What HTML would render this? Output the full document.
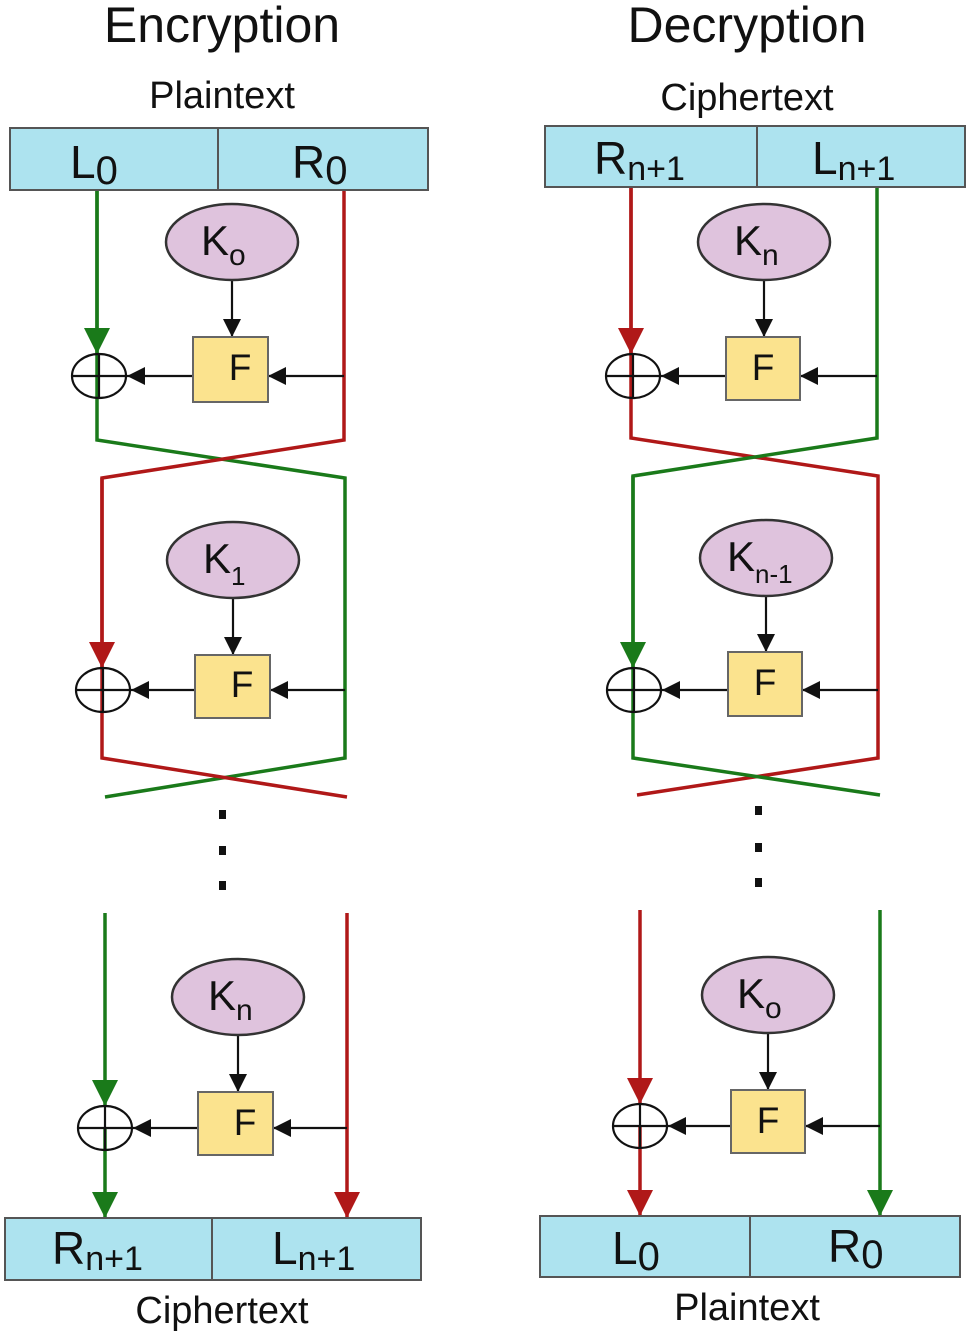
<!DOCTYPE html>
<html><head><meta charset="utf-8"><style>html,body{margin:0;padding:0;background:#fff}svg{display:block}text{font-family:"Liberation Sans",sans-serif;fill:#111}</style></head><body>
<svg width="969" height="1338" viewBox="0 0 969 1338" xmlns="http://www.w3.org/2000/svg">
<defs>
<marker id="ab" markerWidth="10" markerHeight="10" refX="9" refY="5" orient="auto" markerUnits="userSpaceOnUse"><path d="M0,0 L10,5 L0,10 z" fill="#111"/></marker>
<marker id="ag" markerWidth="28" markerHeight="26" refX="26" refY="13" orient="auto" markerUnits="userSpaceOnUse"><path d="M0,0 L26,13 L0,26 z" fill="#1a7a1a"/></marker>
<marker id="ar" markerWidth="28" markerHeight="26" refX="26" refY="13" orient="auto" markerUnits="userSpaceOnUse"><path d="M0,0 L26,13 L0,26 z" fill="#b01818"/></marker>
<marker id="ak" markerWidth="20" markerHeight="20" refX="18" refY="9" orient="auto" markerUnits="userSpaceOnUse"><path d="M0,0 L18,9 L0,18 z" fill="#111"/></marker>
</defs>
<g fill="none" stroke-width="3.5">
<!-- Encryption lines -->
<polyline points="97,190 97,440 345,478 345,758 105,797" stroke="#1a7a1a"/>
<polyline points="344,190 344,440 102,478 102,758 347,797" stroke="#b01818"/>
<line x1="97" y1="190" x2="97" y2="354" stroke="#1a7a1a" marker-end="url(#ag)"/>
<line x1="102" y1="478" x2="102" y2="668" stroke="#b01818" marker-end="url(#ar)"/>
<line x1="105" y1="913" x2="105" y2="1106" stroke="#1a7a1a" marker-end="url(#ag)"/>
<line x1="105" y1="1128" x2="105" y2="1218" stroke="#1a7a1a" marker-end="url(#ag)"/>
<line x1="347" y1="913" x2="347" y2="1218" stroke="#b01818" marker-end="url(#ar)"/>
<!-- Decryption lines -->
<polyline points="631,187 631,438 878,476 878,758 637,795" stroke="#b01818"/>
<polyline points="877,187 877,438 633,476 633,758 880,795" stroke="#1a7a1a"/>
<line x1="631" y1="187" x2="631" y2="354" stroke="#b01818" marker-end="url(#ar)"/>
<line x1="633" y1="476" x2="633" y2="668" stroke="#1a7a1a" marker-end="url(#ag)"/>
<line x1="640" y1="910" x2="640" y2="1104" stroke="#b01818" marker-end="url(#ar)"/>
<line x1="640" y1="1126" x2="640" y2="1216" stroke="#b01818" marker-end="url(#ar)"/>
<line x1="880" y1="910" x2="880" y2="1216" stroke="#1a7a1a" marker-end="url(#ag)"/>
</g>
<g stroke="#111" stroke-width="2.2" fill="none">
<!-- round helpers: K->F arrows, R->F arrows, F->XOR arrows -->
<line x1="232" y1="280" x2="232" y2="337" marker-end="url(#ak)"/>
<line x1="344" y1="376" x2="268" y2="376" marker-end="url(#ak)"/>
<line x1="193" y1="376" x2="127" y2="376" marker-end="url(#ak)"/>
<line x1="233" y1="597" x2="233" y2="655" marker-end="url(#ak)"/>
<line x1="345" y1="690" x2="270" y2="690" marker-end="url(#ak)"/>
<line x1="195" y1="690" x2="131" y2="690" marker-end="url(#ak)"/>
<line x1="238" y1="1034" x2="238" y2="1092" marker-end="url(#ak)"/>
<line x1="347" y1="1128" x2="273" y2="1128" marker-end="url(#ak)"/>
<line x1="198" y1="1128" x2="133" y2="1128" marker-end="url(#ak)"/>
<line x1="764" y1="280" x2="764" y2="337" marker-end="url(#ak)"/>
<line x1="877" y1="376" x2="800" y2="376" marker-end="url(#ak)"/>
<line x1="726" y1="376" x2="661" y2="376" marker-end="url(#ak)"/>
<line x1="766" y1="596" x2="766" y2="652" marker-end="url(#ak)"/>
<line x1="878" y1="690" x2="802" y2="690" marker-end="url(#ak)"/>
<line x1="728" y1="690" x2="662" y2="690" marker-end="url(#ak)"/>
<line x1="768" y1="1033" x2="768" y2="1090" marker-end="url(#ak)"/>
<line x1="880" y1="1126" x2="805" y2="1126" marker-end="url(#ak)"/>
<line x1="731" y1="1126" x2="668" y2="1126" marker-end="url(#ak)"/>
<!-- XORs -->
<ellipse cx="99" cy="376" rx="27" ry="22"/><path d="M72,376H126M99,354V398"/>
<ellipse cx="103" cy="690" rx="27" ry="22"/><path d="M76,690H130M103,668V712"/>
<ellipse cx="105" cy="1128" rx="27" ry="22"/><path d="M78,1128H132M105,1106V1150"/>
<ellipse cx="633" cy="376" rx="27" ry="22"/><path d="M606,376H660M633,354V398"/>
<ellipse cx="634" cy="690" rx="27" ry="22"/><path d="M607,690H661M634,668V712"/>
<ellipse cx="640" cy="1126" rx="27" ry="22"/><path d="M613,1126H667M640,1104V1148"/>
</g>
<!-- Keys -->
<g fill="#dfc3dd" stroke="#333" stroke-width="2.5">
<ellipse cx="232" cy="242" rx="66" ry="38"/>
<ellipse cx="233" cy="560" rx="66" ry="38"/>
<ellipse cx="238" cy="997" rx="66" ry="38"/>
<ellipse cx="764" cy="242" rx="66" ry="38"/>
<ellipse cx="766" cy="558" rx="66" ry="38"/>
<ellipse cx="768" cy="995" rx="66" ry="38"/>
</g>
<!-- F boxes -->
<g fill="#fbe38e" stroke="#666" stroke-width="2">
<rect x="193" y="337" width="75" height="65"/>
<rect x="195" y="655" width="75" height="63"/>
<rect x="198" y="1092" width="75" height="63"/>
<rect x="726" y="337" width="74" height="63"/>
<rect x="728" y="652" width="74" height="64"/>
<rect x="731" y="1090" width="74" height="63"/>
</g>
<!-- blocks -->
<g fill="#ade3ef" stroke="#555" stroke-width="2">
<rect x="10" y="128" width="418" height="62"/><line x1="218" y1="128" x2="218" y2="190"/>
<rect x="5" y="1218" width="416" height="62"/><line x1="212" y1="1218" x2="212" y2="1280"/>
<rect x="545" y="126" width="420" height="61"/><line x1="757" y1="126" x2="757" y2="187"/>
<rect x="540" y="1216" width="420" height="61"/><line x1="750" y1="1216" x2="750" y2="1277"/>
</g>
<!-- dots -->
<g fill="#111">
<rect x="219" y="810" width="7" height="9"/><rect x="219" y="846" width="7" height="9"/><rect x="219" y="881" width="7" height="9"/>
<rect x="755" y="806" width="7" height="9"/><rect x="755" y="843" width="7" height="9"/><rect x="755" y="878" width="7" height="9"/>
</g>
<!-- text -->
<g text-anchor="middle">
<text x="222" y="42" font-size="50">Encryption</text>
<text x="747" y="42" font-size="50">Decryption</text>
<text x="222" y="108" font-size="38">Plaintext</text>
<text x="747" y="110" font-size="38">Ciphertext</text>
<text x="222" y="1323" font-size="38">Ciphertext</text>
<text x="747" y="1320" font-size="38">Plaintext</text>
<g font-size="37">
<text x="240" y="380">F</text><text x="242" y="697">F</text><text x="245" y="1135">F</text>
<text x="763" y="380">F</text><text x="765" y="695">F</text><text x="768" y="1133">F</text>
</g>
</g>
<g font-size="46">
<text x="70" y="178">L<tspan font-size="40" dy="6">0</tspan></text>
<text x="292" y="178">R<tspan font-size="40" dy="6">0</tspan></text>
<text x="52" y="1264">R<tspan font-size="34" dy="6">n+1</tspan></text>
<text x="272" y="1264">L<tspan font-size="34" dy="6">n+1</tspan></text>
<text x="594" y="174">R<tspan font-size="34" dy="6">n+1</tspan></text>
<text x="812" y="174">L<tspan font-size="34" dy="6">n+1</tspan></text>
<text x="612" y="1264">L<tspan font-size="40" dy="6">0</tspan></text>
<text x="828" y="1262">R<tspan font-size="40" dy="6">0</tspan></text>
</g>
<g font-size="42">
<text x="201" y="255">K<tspan font-size="30" dy="10">o</tspan></text>
<text x="203" y="573">K<tspan font-size="26" dy="12">1</tspan></text>
<text x="208" y="1010">K<tspan font-size="30" dy="10">n</tspan></text>
<text x="734" y="255">K<tspan font-size="30" dy="10">n</tspan></text>
<text x="727" y="571">K<tspan font-size="26" dy="12">n-1</tspan></text>
<text x="737" y="1008">K<tspan font-size="30" dy="10">o</tspan></text>
</g>
</svg>
</body></html>
